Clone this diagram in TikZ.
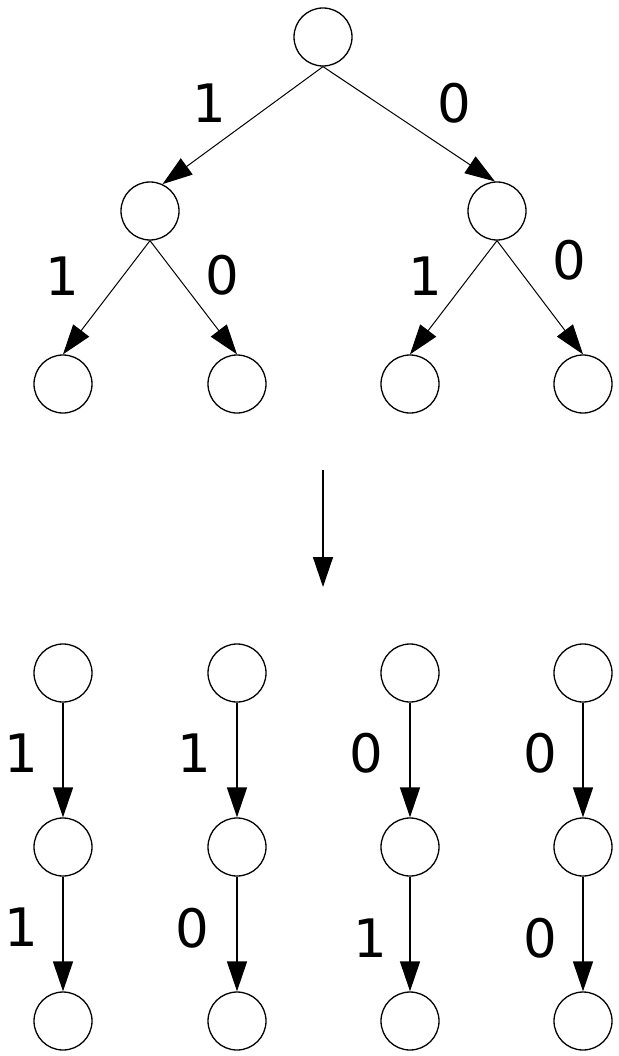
\documentclass[tikz,border=0pt]{standalone}
\usepackage{fontspec}
\setmainfont{DejaVu Sans}
\usetikzlibrary{arrows.meta}
\tikzset{
  st/.style={circle,draw,line width=1.3pt,minimum size=58pt,inner sep=0pt},
  ed/.style={line width=1.0pt,-{Triangle[length=30pt,width=20pt]}},
  ved/.style={ed,line width=1.4pt},
  lb/.style={font=\fontsize{53}{53}\selectfont,inner sep=0pt}
}
\begin{document}
\begin{tikzpicture}[x=1pt,y=-1pt]
\useasboundingbox (0,0) rectangle (618,1056);
% top tree
\node[st] (r) at (323,37) {};
\node[st] (a) at (150,211) {};
\node[st] (b) at (497,211) {};
\node[st] (a1) at (63,384) {};
\node[st] (a2) at (237,384) {};
\node[st] (b1) at (410,384) {};
\node[st] (b2) at (583,384) {};
\draw[ed] (r.south) -- (a.65);
\draw[ed] (r.south) -- (b.94);
\draw[ed] (a.south) -- (a1.north);
\draw[ed] (a.south) -- (a2.north);
\draw[ed] (b.south) -- (b1.north);
\draw[ed] (b.south) -- (b2.north);
\node[lb] (l1) at (209,103) {1};
\node[lb] (l2) at (454,103) {0};
\node[lb] (l3) at (62,276) {1};
\node[lb] (l4) at (222,275) {0};
\node[lb] (l5) at (425,276) {1};
\node[lb] (l6) at (569,260) {0};
% middle arrow
\coordinate (m1) at (323,470);
\coordinate (m2) at (323,587);
\draw[ved] (m1) -- (m2);
% bottom chains
\foreach \x/\n in {63/c1,237/c2,410/c3,583/c4}{
  \node[st] (\n t) at (\x,673) {};
  \node[st] (\n m) at (\x,847) {};
  \node[st] (\n b) at (\x,1021) {};
  \draw[ved] (\n t.south) -- (\n m.north);
  \draw[ved] (\n m.south) -- (\n b.north);
}
\node[lb] (d1) at (21,753) {1};
\node[lb] (d2) at (21,927) {1};
\node[lb] (d3) at (194,753) {1};
\node[lb] (d4) at (192,928) {0};
\node[lb] (d5) at (366,753) {0};
\node[lb] (d6) at (370,938) {1};
\node[lb] (d7) at (540,753) {0};
\node[lb] (d8) at (540,938) {0};
\end{tikzpicture}
\end{document}
